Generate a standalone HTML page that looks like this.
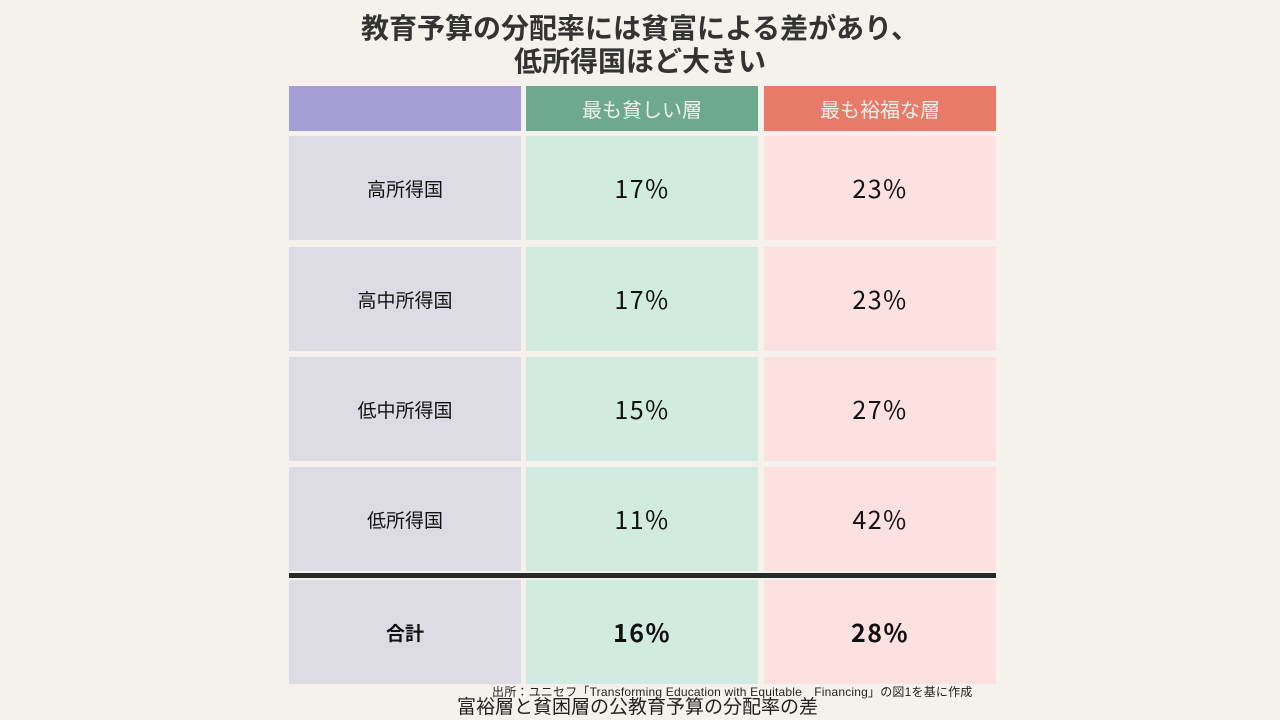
<!DOCTYPE html>
<html><head><meta charset="utf-8">
<style>
body{margin:0;width:1280px;height:720px;background:#f5f2ed;overflow:hidden;position:relative;font-family:"Liberation Sans","Noto Sans CJK JP",sans-serif;}
.t{position:absolute;left:0;width:1280px;text-align:center;font-weight:bold;font-size:28px;line-height:34px;color:#333;font-family:"Noto Sans CJK JP",sans-serif;}
.c{position:absolute;display:flex;align-items:center;justify-content:center;color:#111;font-family:"Noto Sans CJK JP",sans-serif;}
</style></head><body>
<div class="t" style="top:10px">教育予算の分配率には貧富による差があり、</div>
<div class="t" style="top:43px">低所得国ほど大きい</div>
<div id="tbl"></div>
<div style="position:absolute;left:289px;top:573px;width:707px;height:5px;background:#2a2a2a"></div>
<div style="position:absolute;left:492px;top:683px;font-size:12px;color:#222;letter-spacing:0.2px;white-space:nowrap">出所：ユニセフ「Transforming Education with Equitable　Financing」の図1を基に作成</div>
<div style="position:absolute;left:457px;top:697px;font-size:19px;color:#222;line-height:22px">富裕層と貧困層の公教育予算の分配率の差</div>
<script>
const headers = ["", "最も貧しい層", "最も裕福な層"];
const categories = ["高所得国", "高中所得国", "低中所得国", "低所得国", "合計"];
const poorest = [17, 17, 15, 11, 16];
const richest = [23, 23, 27, 42, 28];
const colX = [289, 526, 764], colW = 232;
const rowY = [136, 247, 357, 467, 580], rowH = 104;
const tbl = document.getElementById('tbl');
function cell(x,y,w,h,bg,txt,fs,col,bold,name,ls){
  const d=document.createElement('div');d.className='c';
  
  
  d.style.cssText=`left:${x}px;top:${y}px;width:${w}px;height:${h}px;background:${bg};font-size:${fs}px;color:${col};font-weight:${bold?'bold':'normal'};letter-spacing:${ls||0}px`;
  d.textContent=txt;tbl.appendChild(d);
}
const hbg=["#a59ed4","#6ea98f","#e77b67"];
headers.forEach((h,i)=>cell(colX[i],86,colW,45,hbg[i],h,20,"#eef0ee",false,'header-'+i));
categories.forEach((c,i)=>{
  const b=i===categories.length-1;
  cell(colX[0],rowY[i],colW,rowH,"#dddbe3",c,19,"#111",b,'row-label-'+i);
  cell(colX[1],rowY[i],colW,rowH,"#d1ebe0",poorest[i]+"%",25,"#111",b,'poorest-value-'+i,1.5);
  cell(colX[2],rowY[i],colW,rowH,"#fde1e1",richest[i]+"%",25,"#111",b,'richest-value-'+i,1.5);
});
</script>
</body></html>
